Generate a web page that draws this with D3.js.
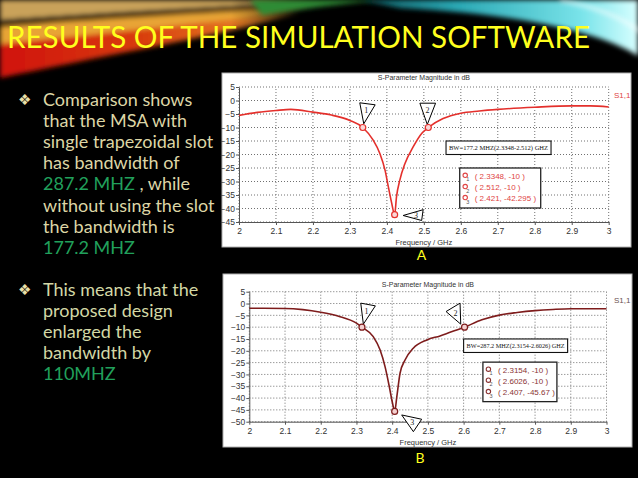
<!DOCTYPE html>
<html>
<head>
<meta charset="utf-8">
<script src="https://cdn.jsdelivr.net/npm/d3@7"></script>
<style>
  html, body { margin: 0; padding: 0; background: #000; overflow: hidden; }
</style>
</head>
<body>
<svg id="slide" width="638" height="478"></svg>
<script>
// ---- data ----
const freqTicks = [2, 2.1, 2.2, 2.3, 2.4, 2.5, 2.6, 2.7, 2.8, 2.9, 3];
const dbTicksA = [5, 0, -5, -10, -15, -20, -25, -30, -35, -40, -45];
const dbTicksB = [5, 0, -5, -10, -15, -20, -25, -30, -35, -40, -45, -50];

// chart A: without the slot
const freqA = [2.00, 2.05, 2.10, 2.14, 2.20, 2.25, 2.30, 2.3348, 2.363, 2.381, 2.395, 2.404, 2.413, 2.421,
               2.426, 2.435, 2.449, 2.471, 2.494, 2.512, 2.552, 2.60, 2.65, 2.70, 2.80, 2.90, 2.95, 3.00];
const s11A  = [-5.5, -4.4, -3.7, -3.3, -4.3, -5.4, -7.4, -10, -14.7, -19.6, -25.8, -32, -38, -42.3,
               -35.7, -29.5, -23.3, -17.2, -12.2, -10, -6.7, -4.7, -3.9, -3.3, -2.5, -2.0, -2.0, -2.4];

// chart B: single trapezoidal slot
const freqB = [2.00, 2.10, 2.15, 2.20, 2.25, 2.30, 2.3154, 2.347, 2.366, 2.380, 2.392, 2.401, 2.407, 2.413,
               2.422, 2.436, 2.459, 2.497, 2.534, 2.560, 2.6026, 2.651, 2.70, 2.75, 2.80, 2.85, 2.90, 2.95, 3.00];
const s11B  = [-2.0, -2.1, -2.6, -3.7, -5.4, -8.3, -10, -14, -19.6, -26.7, -35.2, -42.2, -45.67, -39.4,
               -29.5, -23.9, -18.9, -15.4, -13.7, -12.3, -10, -6.9, -4.9, -3.8, -3.0, -2.5, -2.2, -2.2, -2.2];

const markerFreqA = [2.3348, 2.512, 2.421];
const markerDbA   = [-10, -10, -42.295];
const markerFreqB = [2.3154, 2.6026, 2.407];
const markerDbB   = [-10, -10, -45.67];

const bwLabelA = "BW=177.2 MHZ(2.3348-2.512) GHZ";
const bwLabelB = "BW=287.2 MHZ(2.3154-2.6026) GHZ";

const slideTitle = "RESULTS OF THE SIMULATION SOFTWARE";
// each line is a list of [text, highlighted]
const bulletOne = [
  [["Comparison shows", false]],
  [["that the MSA with", false]],
  [["single trapezoidal slot", false]],
  [["has bandwidth of", false]],
  [["287.2 MHZ", true], [" , while", false]],
  [["without using the slot", false]],
  [["the bandwidth is", false]],
  [["177.2 MHZ", true]]
];
const bulletTwo = [
  [["This means that the", false]],
  [["proposed design", false]],
  [["enlarged the", false]],
  [["bandwidth by", false]],
  [["110MHZ", true]]
];

const svg = d3.select("#slide");
const defs = svg.append("defs");

defs.append("filter").attr("id", "soft")
    .attr("x", "-10%").attr("y", "-30%").attr("width", "120%").attr("height", "160%")
    .append("feGaussianBlur").attr("stdDeviation", 2.5);

function linGrad(id, x1, y1, x2, y2, stops) {
    const gr = defs.append("linearGradient").attr("id", id)
        .attr("x1", x1).attr("y1", y1).attr("x2", x2).attr("y2", y2);
    stops.forEach(s => gr.append("stop").attr("offset", s[0]).attr("stop-color", s[1]));
}
linGrad("fadeRight", 0, 0, 1, 0, [[0, "#fff"], [0.7, "#fff"], [1, "#000"]]);
linGrad("redBand", 0, 0, 1, 0, [[0, "#d01208"], [0.45, "#d83a0c"], [1, "#e89a30"]]);
linGrad("cyan", 0, 0, 1, 0, [[0, "#0e5a60"], [0.35, "#2aa8b4"], [0.8, "#7ae4ea"], [1, "#d8ffff"]]);

const mask = defs.append("mask").attr("id", "warmMask");
mask.append("rect").attr("width", 330).attr("height", 100).attr("fill", "url(#fadeRight)");

// ---- background swooshes ----
svg.append("rect").attr("width", 638).attr("height", 478).attr("fill", "#000");

const warm = svg.append("g").attr("mask", "url(#warmMask)").attr("filter", "url(#soft)");
warm.append("path").attr("d", "M0,0 H320 C260,6 150,10 0,20 Z").attr("fill", "#c9a25a");
warm.append("path").attr("d", "M0,26 C120,16 220,12 310,6 C240,22 120,38 0,46 Z").attr("fill", "#e8a436");
warm.append("path").attr("d", "M0,44 C120,32 210,22 300,12 C230,34 110,54 0,78 Z").attr("fill", "url(#redBand)");
warm.append("path").attr("d", "M0,22 C120,13 220,9 320,3").attr("fill", "none")
    .attr("stroke", "#22140a").attr("stroke-width", 4);

svg.append("path").attr("d", "M250,0 H380 C340,4 300,9 262,15 Z")
    .attr("fill", "#2f8c36").attr("filter", "url(#soft)");
svg.append("path").attr("d", "M360,0 H638 V56 C600,32 520,14 400,8 Z")
    .attr("fill", "url(#cyan)").attr("filter", "url(#soft)");
svg.append("path").attr("d", "M560,0 C600,8 624,18 640,32").attr("fill", "none")
    .attr("stroke", "#ffffff").attr("stroke-width", 3).attr("opacity", 0.7).attr("filter", "url(#soft)");

// ---- title ----
svg.append("text")
    .attr("x", 7).attr("y", 48)
    .attr("textLength", 583).attr("lengthAdjust", "spacingAndGlyphs")
    .style("font-family", "Lato, 'Open Sans', sans-serif")
    .style("font-size", "30px")
    .style("fill", "#ffff1e")
    .text(slideTitle);

// ---- bullet text ----
function drawBullet(lines, top, color) {
    svg.append("text")
        .attr("x", 18).attr("y", top - 1)
        .style("font-family", "'DejaVu Sans', sans-serif")
        .style("font-size", "15px")
        .style("fill", "#e8dfa8")
        .text("\u2756");
    lines.forEach((parts, i) => {
        const t = svg.append("text")
            .attr("x", 43).attr("y", top + i * 21.1)
            .style("font-family", "Lato, 'Open Sans', sans-serif")
            .style("font-size", "18px");
        parts.forEach(p => {
            t.append("tspan").style("fill", p[1] ? "#21a05c" : color).text(p[0]);
        });
    });
}
drawBullet(bulletOne, 106, "#ddd6a6");
drawBullet(bulletTwo, 296, "#d3d8a6");

// ---- charts ----
const charts = [
    {
        panel: [222, 73, 409, 174], plotX: [239, 608.7], plotY: [222, 87],
        dbDomain: [-45, 5], dbTicks: dbTicksA, freq: freqA, s11: s11A,
        mFreq: markerFreqA, mDb: markerDbA,
        color: "#e4302c", markFill: "#fbd8d8", tableColor: "#e04444", labelColor: "#e04444",
        bw: bwLabelA, bwAt: [2.56, -15], bwSize: [105, 13.5],
        tableAt: [2.597, -25], tableSize: [81, 40], rowDy: [8.3, 19.6, 30.6],
        tri: [[[-3, -24.7], [12.4, -22.7], [1, -3.7]],
              [[-8.4, -24.3], [7.3, -24.3], [-1, -3]],
              [[8.5, 0.8], [28.5, -5], [27, 5.8]]],
        titleY: 79.5, freqY: 245, s11Pos: [614, 98],
        letter: "A", letterPos: [421.5, 260]
    },
    {
        panel: [223, 274, 409, 173], plotX: [249.3, 606.5], plotY: [421.7, 291.7],
        dbDomain: [-50, 5], dbTicks: dbTicksB, freq: freqB, s11: s11B,
        mFreq: markerFreqB, mDb: markerDbB,
        color: "#7e1c1c", markFill: "#f4d0d0", tableColor: "#8a3434", labelColor: "#6a5050",
        bw: bwLabelB, bwAt: [2.6, -15], bwSize: [104, 13.5],
        tableAt: [2.654, -24.8], tableSize: [74, 39.5], rowDy: [8, 19, 30.4],
        tri: [[[-1.2, -24], [13.4, -21.3], [1.4, -3]],
              [[-18.5, -15.6], [-4.5, -24], [-3.8, -3]],
              [[7, 3.5], [27, 7.8], [18.7, 20.2]]],
        titleY: 286.5, freqY: 445, s11Pos: [614, 303],
        letter: "B", letterPos: [420, 463]
    }
];

const smallFont = "'Liberation Sans', Arial, sans-serif";
const serifFont = "'Liberation Serif', 'Times New Roman', serif";

function drawChart(c) {
    const g = svg.append("g");

    g.append("rect")
        .attr("x", c.panel[0]).attr("y", c.panel[1])
        .attr("width", c.panel[2]).attr("height", c.panel[3])
        .attr("fill", "#fff").attr("stroke", "#b0b0b0");

    const x = d3.scaleLinear().domain([2, 3]).range(c.plotX);
    const y = d3.scaleLinear().domain(c.dbDomain).range(c.plotY);

    // dotted grid
    g.selectAll(".vgrid").data(freqTicks).join("line")
        .attr("x1", d => x(d)).attr("x2", d => x(d))
        .attr("y1", c.plotY[0]).attr("y2", c.plotY[1])
        .attr("stroke", "#707070").attr("stroke-dasharray", "1,2");
    g.selectAll(".hgrid").data(c.dbTicks).join("line")
        .attr("x1", c.plotX[0]).attr("x2", c.plotX[1])
        .attr("y1", d => y(d)).attr("y2", d => y(d))
        .attr("stroke", "#707070").attr("stroke-dasharray", "1,2");

    const xAxis = g.append("g")
        .attr("transform", `translate(0,${c.plotY[0]})`)
        .call(d3.axisBottom(x).tickValues(freqTicks).tickSize(3).tickSizeOuter(0)
            .tickFormat(d => (d === 2 || d === 3) ? d : d.toFixed(1)));
    const yAxis = g.append("g")
        .attr("transform", `translate(${c.plotX[0]},0)`)
        .call(d3.axisLeft(y).tickValues(c.dbTicks).tickSize(3).tickSizeOuter(0).tickPadding(1));
    [xAxis, yAxis].forEach(a => {
        a.select(".domain").attr("stroke", "#555");
        a.selectAll(".tick line").attr("stroke", "#555");
        a.selectAll(".tick text")
            .style("font-family", smallFont).style("font-size", "8.5px").style("fill", "#333");
    });

    const midX = (c.plotX[0] + c.plotX[1]) / 2;
    g.append("text").attr("x", midX).attr("y", c.titleY).attr("text-anchor", "middle")
        .style("font-family", smallFont).style("font-size", "7px").style("fill", "#333")
        .text("S-Parameter Magnitude in dB");
    g.append("text").attr("x", midX).attr("y", c.freqY).attr("text-anchor", "middle")
        .style("font-family", smallFont).style("font-size", "7.5px").style("fill", "#333")
        .text("Frequency / GHz");
    g.append("text").attr("x", c.s11Pos[0]).attr("y", c.s11Pos[1])
        .style("font-family", smallFont).style("font-size", "8px").style("fill", c.labelColor)
        .text("S1,1");

    // S11 curve
    const pts = c.freq.map((f, i) => [f, c.s11[i]]);
    const line = d3.line().x(d => x(d[0])).y(d => y(d[1])).curve(d3.curveMonotoneX);
    g.append("path").datum(pts)
        .attr("fill", "none").attr("stroke", c.color).attr("stroke-width", 1.6)
        .attr("d", line);

    // markers with their flags
    c.mFreq.forEach((f, i) => {
        const mx = x(f), my = y(c.mDb[i]);
        const tri = c.tri[i];
        g.append("polygon")
            .attr("points", tri.map(p => `${mx + p[0]},${my + p[1]}`).join(" "))
            .attr("fill", "#fff").attr("stroke", "#000").attr("stroke-width", 1);
        const cx = d3.mean(tri, p => p[0]), cy = d3.mean(tri, p => p[1]);
        g.append("text").attr("x", mx + cx).attr("y", my + cy + 3)
            .attr("text-anchor", "middle")
            .style("font-family", serifFont).style("font-size", "8px").style("fill", "#222")
            .text(i + 1);
        g.append("circle").attr("cx", mx).attr("cy", my).attr("r", 3)
            .attr("fill", c.markFill).attr("stroke", c.color).attr("stroke-width", 1.2);
    });

    // bandwidth box
    const bx = x(c.bwAt[0]), by = y(c.bwAt[1]);
    g.append("rect").attr("x", bx).attr("y", by)
        .attr("width", c.bwSize[0]).attr("height", c.bwSize[1])
        .attr("fill", "#fff").attr("stroke", "#111").attr("stroke-width", 1.1);
    g.append("text").attr("x", bx + 3).attr("y", by + c.bwSize[1] / 2 + 2.4)
        .attr("textLength", c.bwSize[0] - 6).attr("lengthAdjust", "spacingAndGlyphs")
        .style("font-family", serifFont).style("font-size", "7px").style("fill", "#111")
        .text(c.bw);

    // marker table
    const tx = x(c.tableAt[0]), ty = y(c.tableAt[1]);
    g.append("rect").attr("x", tx).attr("y", ty)
        .attr("width", c.tableSize[0]).attr("height", c.tableSize[1])
        .attr("fill", "#fff").attr("stroke", "#222").attr("stroke-width", 1.3);
    c.mFreq.forEach((f, i) => {
        const ry = ty + c.rowDy[i];
        g.append("circle").attr("cx", tx + 5.5).attr("cy", ry - 1).attr("r", 2.2)
            .attr("fill", "none").attr("stroke", c.tableColor).attr("stroke-width", 1.1);
        g.append("text").attr("x", tx + 6.5).attr("y", ry + 5)
            .style("font-family", smallFont).style("font-size", "5.5px").style("fill", "#555")
            .text(i + 1);
        g.append("text").attr("x", tx + 15).attr("y", ry + 2.8)
            .style("font-family", smallFont).style("font-size", "8px").style("fill", c.tableColor)
            .text(`( ${f}, ${c.mDb[i]} )`);
    });

    svg.append("text").attr("x", c.letterPos[0]).attr("y", c.letterPos[1])
        .attr("text-anchor", "middle")
        .style("font-family", "Lato, 'Open Sans', sans-serif")
        .style("font-size", "14px").style("fill", "#ffff1e")
        .text(c.letter);
}

charts.forEach(drawChart);
</script>
</body>
</html>
